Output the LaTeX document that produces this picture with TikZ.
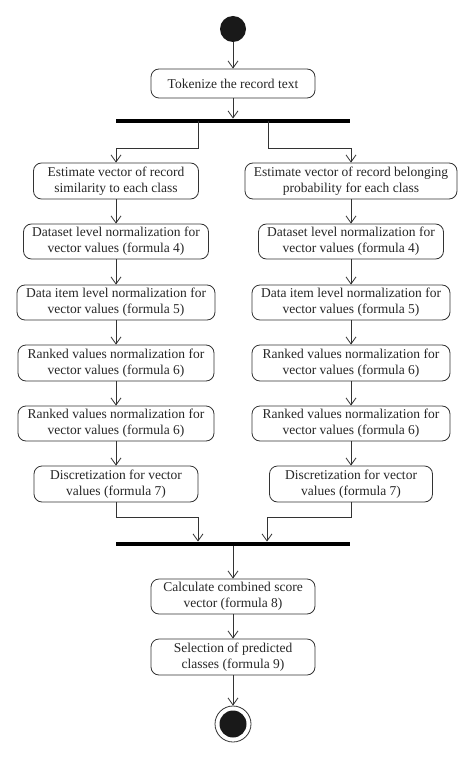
\documentclass[tikz,border=0pt]{standalone}
\usepackage{fontspec}
\setmainfont{Liberation Serif}
\usetikzlibrary{arrows.meta}
\definecolor{ln}{HTML}{333333}
\tikzset{
  act/.style={draw=ln, line width=0.8pt, rounded corners=8pt, align=center, inner sep=0pt,
    font=\fontsize{13.5}{15.8}\selectfont, text=black!85},
  flow/.style={draw=ln, line width=0.8pt, -{Straight Barb[length=7pt,width=10pt]}},
  plain/.style={draw=ln, line width=0.8pt},
  bar/.style={fill=black, inner sep=0pt, minimum height=4.5pt}
}
\begin{document}
\begin{tikzpicture}[x=1pt,y=-1pt]
\useasboundingbox (0,0) rectangle (474,759);
% start
\node[circle, fill=black!90, minimum size=26pt, inner sep=0pt] (start) at (233,29) {};
\node[act, minimum width=164pt, minimum height=29pt] (tok) at (233,83.5) {Tokenize the record text};
\node[bar, minimum width=234pt] (fork) at (233,121) {};
% left column
\node[act, minimum width=165pt, minimum height=36pt] (L1) at (116,181) {Estimate vector of record\\similarity to each class};
\node[act, minimum width=185pt, minimum height=35pt] (L2) at (116,241.5) {Dataset level normalization for\\vector values (formula 4)};
\node[act, minimum width=198pt, minimum height=35pt] (L3) at (116,302.5) {Data item level normalization for\\vector values (formula 5)};
\node[act, minimum width=196pt, minimum height=36pt] (L4) at (116,363) {Ranked values normalization for\\vector values (formula 6)};
\node[act, minimum width=196pt, minimum height=35pt] (L5) at (116,423.5) {Ranked values normalization for\\vector values (formula 6)};
\node[act, minimum width=164pt, minimum height=36pt] (L6) at (116,484) {Discretization for vector\\values (formula 7)};
% right column
\node[act, minimum width=212pt, minimum height=36pt] (R1) at (351,181) {Estimate vector of record belonging\\probability for each class};
\node[act, minimum width=185pt, minimum height=35pt] (R2) at (351,241.5) {Dataset level normalization for\\vector values (formula 4)};
\node[act, minimum width=198pt, minimum height=35pt] (R3) at (351,302.5) {Data item level normalization for\\vector values (formula 5)};
\node[act, minimum width=198pt, minimum height=36pt] (R4) at (351,363) {Ranked values normalization for\\vector values (formula 6)};
\node[act, minimum width=198pt, minimum height=35pt] (R5) at (351,423.5) {Ranked values normalization for\\vector values (formula 6)};
\node[act, minimum width=163pt, minimum height=36pt] (R6) at (351,484) {Discretization for vector\\values (formula 7)};
% join
\node[bar, minimum width=234pt] (join) at (233,544) {};
\node[act, minimum width=164pt, minimum height=35pt] (C1) at (233,596.5) {Calculate combined score\\vector (formula 8)};
\node[act, minimum width=164pt, minimum height=36pt] (C2) at (233,657) {Selection of predicted\\classes (formula 9)};
\node[circle, draw=ln, line width=0.8pt, minimum size=36pt, inner sep=0pt] (end) at (233,724) {};
\node[circle, fill=black!90, minimum size=27pt, inner sep=0pt] at (end) {};
% coordinates for fork/join routing
\coordinate (fl) at (198,121);
\coordinate (fr) at (268,121);
\coordinate (jl) at (198,544);
\coordinate (jr) at (267,544);
% connectors
\draw[flow] (start) -- (tok);
\draw[flow] (tok) -- (tok.south |- fork.north);
\draw[flow] (fl) -- (198,148) -- (116,148) -- (L1.north);
\draw[flow] (fr) -- (268,148) -- (351,148) -- (R1.north);
\foreach \a/\b in {L1/L2,L2/L3,L3/L4,L4/L5,L5/L6,R1/R2,R2/R3,R3/R4,R4/R5,R5/R6}{
  \draw[flow] (\a.south) -- (\b.north);
}
\draw[flow] (L6.south) -- (116,517) -- (198,517) -- (jl |- join.north);
\draw[flow] (R6.south) -- (351,517) -- (267,517) -- (jr |- join.north);
\draw[flow] (join) -- (C1);
\draw[flow] (C1) -- (C2);
\draw[flow] (C2) -- (end);
\end{tikzpicture}
\end{document}
